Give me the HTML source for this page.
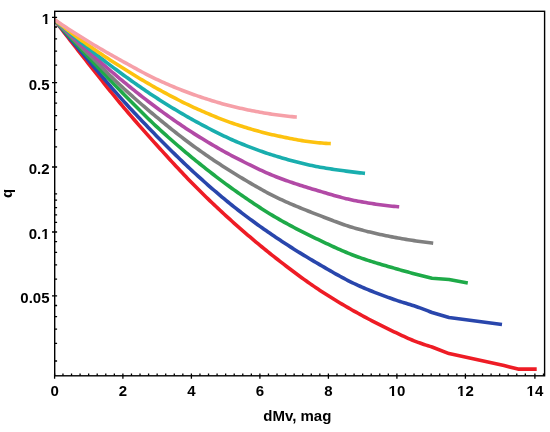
<!DOCTYPE html>
<html><head><meta charset="utf-8"><title>q vs dMv</title>
<style>html,body{margin:0;padding:0;background:#fff}svg{display:block}text{font-family:"Liberation Sans",sans-serif;font-weight:bold;font-size:15px;fill:#000}</style></head><body>
<svg width="550" height="432" viewBox="0 0 550 432">
<rect width="550" height="432" fill="#fff"/>
<clipPath id="c"><rect x="54.70" y="11.30" width="489.90" height="364.50"/></clipPath><g clip-path="url(#c)">
<path d="M54.00 19.30 L56.00 21.91 L58.00 24.52 L60.00 27.12 L62.00 29.72 L64.00 32.31 L66.00 34.90 L68.00 37.48 L70.00 40.06 L72.00 42.63 L74.00 45.20 L76.00 47.76 L78.00 50.32 L80.00 52.87 L82.00 55.42 L84.00 57.96 L86.00 60.50 L88.00 63.03 L90.00 65.56 L92.00 68.10 L94.00 70.63 L96.00 73.16 L98.00 75.69 L100.00 78.22 L102.00 80.74 L104.00 83.26 L106.00 85.76 L108.00 88.27 L110.00 90.76 L112.00 93.23 L114.00 95.70 L116.00 98.15 L118.00 100.59 L120.00 103.01 L122.00 105.41 L124.00 107.79 L126.00 110.16 L128.00 112.51 L130.00 114.85 L132.00 117.18 L134.00 119.49 L136.00 121.79 L138.00 124.09 L140.00 126.37 L142.00 128.64 L144.00 130.90 L146.00 133.15 L148.00 135.40 L150.00 137.63 L152.00 139.86 L154.00 142.08 L156.00 144.30 L158.00 146.50 L160.00 148.71 L162.00 150.91 L164.00 153.12 L166.00 155.31 L168.00 157.50 L170.00 159.69 L172.00 161.87 L174.00 164.03 L176.00 166.20 L178.00 168.35 L180.00 170.49 L182.00 172.61 L184.00 174.73 L186.00 176.83 L188.00 178.92 L190.00 180.99 L192.00 183.04 L194.00 185.08 L196.00 187.10 L198.00 189.10 L200.00 191.09 L202.00 193.06 L204.00 195.02 L206.00 196.97 L208.00 198.91 L210.00 200.84 L212.00 202.75 L214.00 204.65 L216.00 206.54 L218.00 208.42 L220.00 210.29 L222.00 212.14 L224.00 213.99 L226.00 215.82 L228.00 217.64 L230.00 219.45 L232.00 221.25 L234.00 223.04 L236.00 224.82 L238.00 226.58 L240.00 228.34 L242.00 230.08 L244.00 231.82 L246.00 233.55 L248.00 235.26 L250.00 236.97 L252.00 238.67 L254.00 240.35 L256.00 242.03 L258.00 243.69 L260.00 245.35 L262.00 246.99 L264.00 248.63 L266.00 250.25 L268.00 251.87 L270.00 253.47 L272.00 255.06 L274.00 256.65 L276.00 258.22 L278.00 259.78 L280.00 261.34 L282.00 262.89 L284.00 264.43 L286.00 265.97 L288.00 267.50 L290.00 269.02 L292.00 270.54 L294.00 272.04 L296.00 273.53 L298.00 275.01 L300.00 276.48 L302.00 277.94 L304.00 279.38 L306.00 280.81 L308.00 282.23 L310.00 283.63 L312.00 285.01 L314.00 286.38 L316.00 287.73 L318.00 289.06 L320.00 290.38 L322.00 291.69 L324.00 292.99 L326.00 294.27 L328.00 295.54 L330.00 296.80 L332.00 298.05 L334.00 299.29 L336.00 300.52 L338.00 301.73 L340.00 302.94 L342.00 304.13 L344.00 305.31 L346.00 306.49 L348.00 307.65 L350.00 308.80 L352.00 309.94 L354.00 311.07 L356.00 312.19 L358.00 313.30 L360.00 314.41 L362.00 315.50 L364.00 316.58 L366.00 317.65 L368.00 318.72 L370.00 319.77 L372.00 320.82 L374.00 321.85 L376.00 322.88 L378.00 323.90 L380.00 324.91 L382.00 325.92 L384.00 326.91 L386.00 327.90 L388.00 328.88 L390.00 329.85 L392.00 330.82 L394.00 331.78 L396.00 332.73 L398.00 333.67 L400.00 334.62 L402.00 335.56 L404.00 336.48 L406.00 337.40 L408.00 338.29 L410.00 339.16 L412.00 340.00 L414.00 340.80 L416.00 341.58 L418.00 342.33 L420.00 343.06 L422.00 343.78 L424.00 344.47 L426.00 345.14 L428.00 345.78 L430.00 346.40 L432.00 347.00 L449.00 353.60 L504.00 365.50 L518.00 369.10 L536.70 369.10" fill="none" stroke="#ee1c25" stroke-width="3.6" stroke-linecap="butt" stroke-linejoin="round"/>
<path d="M54.00 19.30 L56.00 21.72 L58.00 24.14 L60.00 26.56 L62.00 28.97 L64.00 31.37 L66.00 33.77 L68.00 36.17 L70.00 38.57 L72.00 40.95 L74.00 43.34 L76.00 45.72 L78.00 48.10 L80.00 50.47 L82.00 52.84 L84.00 55.21 L86.00 57.57 L88.00 59.92 L90.00 62.28 L92.00 64.63 L94.00 66.99 L96.00 69.35 L98.00 71.71 L100.00 74.06 L102.00 76.42 L104.00 78.76 L106.00 81.10 L108.00 83.43 L110.00 85.76 L112.00 88.07 L114.00 90.36 L116.00 92.65 L118.00 94.91 L120.00 97.16 L122.00 99.39 L124.00 101.60 L126.00 103.80 L128.00 105.99 L130.00 108.16 L132.00 110.32 L134.00 112.47 L136.00 114.60 L138.00 116.73 L140.00 118.84 L142.00 120.95 L144.00 123.04 L146.00 125.12 L148.00 127.20 L150.00 129.26 L152.00 131.31 L154.00 133.35 L156.00 135.39 L158.00 137.41 L160.00 139.43 L162.00 141.45 L164.00 143.46 L166.00 145.46 L168.00 147.45 L170.00 149.44 L172.00 151.42 L174.00 153.39 L176.00 155.35 L178.00 157.31 L180.00 159.25 L182.00 161.17 L184.00 163.09 L186.00 164.99 L188.00 166.88 L190.00 168.76 L192.00 170.62 L194.00 172.46 L196.00 174.29 L198.00 176.10 L200.00 177.91 L202.00 179.70 L204.00 181.49 L206.00 183.26 L208.00 185.03 L210.00 186.78 L212.00 188.52 L214.00 190.25 L216.00 191.97 L218.00 193.68 L220.00 195.37 L222.00 197.05 L224.00 198.72 L226.00 200.37 L228.00 202.01 L230.00 203.63 L232.00 205.24 L234.00 206.84 L236.00 208.42 L238.00 209.98 L240.00 211.53 L242.00 213.07 L244.00 214.59 L246.00 216.10 L248.00 217.60 L250.00 219.09 L252.00 220.56 L254.00 222.03 L256.00 223.48 L258.00 224.92 L260.00 226.35 L262.00 227.77 L264.00 229.18 L266.00 230.58 L268.00 231.97 L270.00 233.35 L272.00 234.72 L274.00 236.08 L276.00 237.43 L278.00 238.77 L280.00 240.10 L282.00 241.42 L284.00 242.73 L286.00 244.04 L288.00 245.33 L290.00 246.61 L292.00 247.89 L294.00 249.16 L296.00 250.41 L298.00 251.66 L300.00 252.90 L302.00 254.13 L304.00 255.36 L306.00 256.57 L308.00 257.78 L310.00 258.97 L312.00 260.16 L314.00 261.34 L316.00 262.52 L318.00 263.68 L320.00 264.85 L322.00 266.02 L324.00 267.18 L326.00 268.35 L328.00 269.51 L330.00 270.66 L332.00 271.81 L334.00 272.95 L336.00 274.08 L338.00 275.19 L340.00 276.30 L342.00 277.39 L344.00 278.46 L346.00 279.51 L348.00 280.54 L350.00 281.55 L352.00 282.54 L354.00 283.50 L356.00 284.44 L358.00 285.35 L360.00 286.25 L362.00 287.12 L364.00 287.99 L366.00 288.83 L368.00 289.67 L370.00 290.49 L372.00 291.29 L374.00 292.09 L376.00 292.87 L378.00 293.64 L380.00 294.40 L382.00 295.15 L384.00 295.89 L386.00 296.62 L388.00 297.34 L390.00 298.06 L392.00 298.76 L394.00 299.46 L396.00 300.16 L398.00 300.84 L400.00 301.49 L402.00 302.12 L404.00 302.73 L406.00 303.33 L408.00 303.93 L410.00 304.55 L412.00 305.18 L414.00 305.83 L416.00 306.51 L418.00 307.21 L420.00 307.93 L422.00 308.66 L424.00 309.40 L426.00 310.16 L428.00 310.92 L430.00 311.71 L432.00 312.50 L449.00 317.50 L502.00 324.50" fill="none" stroke="#2946ac" stroke-width="3.6" stroke-linecap="butt" stroke-linejoin="round"/>
<path d="M54.00 19.30 L56.00 21.55 L58.00 23.80 L60.00 26.03 L62.00 28.27 L64.00 30.49 L66.00 32.71 L68.00 34.93 L70.00 37.13 L72.00 39.34 L74.00 41.53 L76.00 43.72 L78.00 45.90 L80.00 48.08 L82.00 50.25 L84.00 52.42 L86.00 54.57 L88.00 56.73 L90.00 58.87 L92.00 61.01 L94.00 63.15 L96.00 65.28 L98.00 67.40 L100.00 69.52 L102.00 71.63 L104.00 73.74 L106.00 75.84 L108.00 77.93 L110.00 80.02 L112.00 82.10 L114.00 84.17 L116.00 86.23 L118.00 88.29 L120.00 90.34 L122.00 92.38 L124.00 94.42 L126.00 96.45 L128.00 98.49 L130.00 100.52 L132.00 102.55 L134.00 104.57 L136.00 106.59 L138.00 108.59 L140.00 110.59 L142.00 112.58 L144.00 114.56 L146.00 116.52 L148.00 118.47 L150.00 120.40 L152.00 122.31 L154.00 124.20 L156.00 126.07 L158.00 127.92 L160.00 129.76 L162.00 131.58 L164.00 133.39 L166.00 135.19 L168.00 136.98 L170.00 138.75 L172.00 140.52 L174.00 142.27 L176.00 144.01 L178.00 145.74 L180.00 147.46 L182.00 149.16 L184.00 150.85 L186.00 152.54 L188.00 154.21 L190.00 155.87 L192.00 157.52 L194.00 159.16 L196.00 160.79 L198.00 162.41 L200.00 164.02 L202.00 165.62 L204.00 167.21 L206.00 168.80 L208.00 170.37 L210.00 171.94 L212.00 173.49 L214.00 175.04 L216.00 176.57 L218.00 178.10 L220.00 179.61 L222.00 181.11 L224.00 182.60 L226.00 184.08 L228.00 185.55 L230.00 187.01 L232.00 188.45 L234.00 189.88 L236.00 191.30 L238.00 192.70 L240.00 194.10 L242.00 195.49 L244.00 196.88 L246.00 198.25 L248.00 199.62 L250.00 200.98 L252.00 202.33 L254.00 203.67 L256.00 205.00 L258.00 206.32 L260.00 207.62 L262.00 208.91 L264.00 210.19 L266.00 211.45 L268.00 212.70 L270.00 213.93 L272.00 215.14 L274.00 216.34 L276.00 217.52 L278.00 218.68 L280.00 219.83 L282.00 220.96 L284.00 222.08 L286.00 223.19 L288.00 224.28 L290.00 225.36 L292.00 226.43 L294.00 227.49 L296.00 228.54 L298.00 229.58 L300.00 230.61 L302.00 231.63 L304.00 232.64 L306.00 233.64 L308.00 234.63 L310.00 235.61 L312.00 236.59 L314.00 237.56 L316.00 238.52 L318.00 239.48 L320.00 240.43 L322.00 241.39 L324.00 242.34 L326.00 243.28 L328.00 244.23 L330.00 245.16 L332.00 246.09 L334.00 247.01 L336.00 247.92 L338.00 248.82 L340.00 249.71 L342.00 250.58 L344.00 251.44 L346.00 252.28 L348.00 253.11 L350.00 253.92 L352.00 254.71 L354.00 255.48 L356.00 256.23 L358.00 256.96 L360.00 257.67 L362.00 258.37 L364.00 259.05 L366.00 259.71 L368.00 260.37 L370.00 261.01 L372.00 261.64 L374.00 262.26 L376.00 262.87 L378.00 263.47 L380.00 264.07 L382.00 264.66 L384.00 265.24 L386.00 265.83 L388.00 266.40 L390.00 266.98 L392.00 267.56 L394.00 268.13 L396.00 268.71 L398.00 269.29 L400.00 269.86 L402.00 270.43 L404.00 270.99 L406.00 271.54 L408.00 272.09 L410.00 272.63 L412.00 273.17 L414.00 273.71 L416.00 274.24 L417.00 274.50 L432.00 278.30 L449.00 279.50 L467.80 282.90" fill="none" stroke="#1eaa48" stroke-width="3.6" stroke-linecap="butt" stroke-linejoin="round"/>
<path d="M54.00 19.30 L56.00 21.35 L58.00 23.39 L60.00 25.43 L62.00 27.47 L64.00 29.50 L66.00 31.53 L68.00 33.56 L70.00 35.58 L72.00 37.60 L74.00 39.61 L76.00 41.62 L78.00 43.63 L80.00 45.63 L82.00 47.63 L84.00 49.63 L86.00 51.62 L88.00 53.61 L90.00 55.59 L92.00 57.58 L94.00 59.57 L96.00 61.57 L98.00 63.56 L100.00 65.56 L102.00 67.54 L104.00 69.53 L106.00 71.50 L108.00 73.47 L110.00 75.43 L112.00 77.38 L114.00 79.31 L116.00 81.23 L118.00 83.13 L120.00 85.01 L122.00 86.88 L124.00 88.72 L126.00 90.55 L128.00 92.36 L130.00 94.17 L132.00 95.96 L134.00 97.74 L136.00 99.51 L138.00 101.26 L140.00 103.01 L142.00 104.74 L144.00 106.47 L146.00 108.18 L148.00 109.88 L150.00 111.57 L152.00 113.25 L154.00 114.92 L156.00 116.57 L158.00 118.22 L160.00 119.87 L162.00 121.50 L164.00 123.13 L166.00 124.76 L168.00 126.37 L170.00 127.98 L172.00 129.58 L174.00 131.17 L176.00 132.75 L178.00 134.32 L180.00 135.88 L182.00 137.43 L184.00 138.96 L186.00 140.48 L188.00 141.99 L190.00 143.49 L192.00 144.97 L194.00 146.43 L196.00 147.88 L198.00 149.32 L200.00 150.74 L202.00 152.15 L204.00 153.55 L206.00 154.94 L208.00 156.32 L210.00 157.69 L212.00 159.04 L214.00 160.39 L216.00 161.73 L218.00 163.05 L220.00 164.37 L222.00 165.67 L224.00 166.96 L226.00 168.24 L228.00 169.51 L230.00 170.77 L232.00 172.02 L234.00 173.26 L236.00 174.49 L238.00 175.71 L240.00 176.92 L242.00 178.13 L244.00 179.34 L246.00 180.54 L248.00 181.73 L250.00 182.91 L252.00 184.09 L254.00 185.25 L256.00 186.41 L258.00 187.55 L260.00 188.68 L262.00 189.79 L264.00 190.89 L266.00 191.98 L268.00 193.04 L270.00 194.09 L272.00 195.12 L274.00 196.13 L276.00 197.11 L278.00 198.08 L280.00 199.03 L282.00 199.96 L284.00 200.88 L286.00 201.78 L288.00 202.67 L290.00 203.55 L292.00 204.42 L294.00 205.27 L296.00 206.11 L298.00 206.95 L300.00 207.77 L302.00 208.58 L304.00 209.39 L306.00 210.19 L308.00 210.99 L310.00 211.77 L312.00 212.56 L314.00 213.34 L316.00 214.11 L318.00 214.89 L320.00 215.66 L322.00 216.44 L324.00 217.22 L326.00 217.99 L328.00 218.77 L330.00 219.54 L332.00 220.30 L334.00 221.06 L336.00 221.80 L338.00 222.54 L340.00 223.27 L342.00 223.98 L344.00 224.68 L346.00 225.36 L348.00 226.02 L350.00 226.67 L352.00 227.29 L354.00 227.89 L356.00 228.47 L358.00 229.03 L360.00 229.57 L362.00 230.10 L364.00 230.62 L366.00 231.13 L368.00 231.63 L370.00 232.12 L372.00 232.61 L374.00 233.08 L376.00 233.54 L378.00 233.99 L380.00 234.43 L382.00 234.86 L384.00 235.28 L386.00 235.69 L388.00 236.10 L390.00 236.49 L392.00 236.88 L394.00 237.25 L396.00 237.62 L398.00 237.98 L400.00 238.33 L402.00 238.68 L404.00 239.02 L406.00 239.36 L408.00 239.69 L410.00 240.01 L412.00 240.33 L414.00 240.63 L416.00 240.94 L418.00 241.23 L420.00 241.52 L422.00 241.80 L424.00 242.07 L426.00 242.33 L428.00 242.58 L430.00 242.83 L432.00 243.06 L433.20 243.20" fill="none" stroke="#7f7f7f" stroke-width="3.6" stroke-linecap="butt" stroke-linejoin="round"/>
<path d="M54.00 19.30 L56.00 21.22 L58.00 23.13 L60.00 25.03 L62.00 26.92 L64.00 28.81 L66.00 30.69 L68.00 32.57 L70.00 34.44 L72.00 36.29 L74.00 38.15 L76.00 39.99 L78.00 41.83 L80.00 43.66 L82.00 45.48 L84.00 47.30 L86.00 49.10 L88.00 50.90 L90.00 52.70 L92.00 54.48 L94.00 56.27 L96.00 58.04 L98.00 59.81 L100.00 61.58 L102.00 63.34 L104.00 65.09 L106.00 66.83 L108.00 68.56 L110.00 70.29 L112.00 72.00 L114.00 73.71 L116.00 75.40 L118.00 77.09 L120.00 78.76 L122.00 80.42 L124.00 82.07 L126.00 83.72 L128.00 85.35 L130.00 86.98 L132.00 88.61 L134.00 90.22 L136.00 91.82 L138.00 93.42 L140.00 95.01 L142.00 96.58 L144.00 98.14 L146.00 99.70 L148.00 101.24 L150.00 102.76 L152.00 104.28 L154.00 105.78 L156.00 107.26 L158.00 108.73 L160.00 110.20 L162.00 111.65 L164.00 113.10 L166.00 114.54 L168.00 115.98 L170.00 117.40 L172.00 118.81 L174.00 120.22 L176.00 121.61 L178.00 122.99 L180.00 124.36 L182.00 125.72 L184.00 127.07 L186.00 128.40 L188.00 129.73 L190.00 131.03 L192.00 132.33 L194.00 133.61 L196.00 134.87 L198.00 136.12 L200.00 137.36 L202.00 138.59 L204.00 139.81 L206.00 141.03 L208.00 142.23 L210.00 143.42 L212.00 144.60 L214.00 145.77 L216.00 146.93 L218.00 148.07 L220.00 149.21 L222.00 150.33 L224.00 151.45 L226.00 152.55 L228.00 153.64 L230.00 154.72 L232.00 155.79 L234.00 156.84 L236.00 157.88 L238.00 158.91 L240.00 159.94 L242.00 160.96 L244.00 161.98 L246.00 162.99 L248.00 163.99 L250.00 164.98 L252.00 165.97 L254.00 166.94 L256.00 167.90 L258.00 168.85 L260.00 169.79 L262.00 170.72 L264.00 171.62 L266.00 172.52 L268.00 173.39 L270.00 174.25 L272.00 175.09 L274.00 175.91 L276.00 176.71 L278.00 177.49 L280.00 178.25 L282.00 179.00 L284.00 179.73 L286.00 180.45 L288.00 181.16 L290.00 181.86 L292.00 182.55 L294.00 183.22 L296.00 183.89 L298.00 184.55 L300.00 185.19 L302.00 185.83 L304.00 186.46 L306.00 187.08 L308.00 187.70 L310.00 188.31 L312.00 188.91 L314.00 189.51 L316.00 190.10 L318.00 190.70 L320.00 191.29 L322.00 191.89 L324.00 192.48 L326.00 193.08 L328.00 193.67 L330.00 194.26 L332.00 194.84 L334.00 195.42 L336.00 195.99 L338.00 196.54 L340.00 197.09 L342.00 197.62 L344.00 198.13 L346.00 198.63 L348.00 199.11 L350.00 199.57 L352.00 200.01 L354.00 200.43 L356.00 200.82 L358.00 201.18 L360.00 201.54 L362.00 201.89 L364.00 202.24 L366.00 202.58 L368.00 202.92 L370.00 203.24 L372.00 203.56 L374.00 203.87 L376.00 204.17 L378.00 204.46 L380.00 204.74 L382.00 205.01 L384.00 205.27 L386.00 205.52 L388.00 205.75 L390.00 205.97 L392.00 206.18 L394.00 206.37 L396.00 206.55 L398.00 206.71 L399.20 206.80" fill="none" stroke="#b24aa6" stroke-width="3.6" stroke-linecap="butt" stroke-linejoin="round"/>
<path d="M54.00 19.30 L56.00 21.06 L58.00 22.82 L60.00 24.56 L62.00 26.30 L64.00 28.03 L66.00 29.74 L68.00 31.45 L70.00 33.15 L72.00 34.84 L74.00 36.52 L76.00 38.19 L78.00 39.85 L80.00 41.50 L82.00 43.14 L84.00 44.77 L86.00 46.39 L88.00 48.00 L90.00 49.60 L92.00 51.19 L94.00 52.77 L96.00 54.34 L98.00 55.91 L100.00 57.46 L102.00 59.00 L104.00 60.54 L106.00 62.07 L108.00 63.58 L110.00 65.09 L112.00 66.60 L114.00 68.09 L116.00 69.57 L118.00 71.05 L120.00 72.51 L122.00 73.97 L124.00 75.43 L126.00 76.87 L128.00 78.31 L130.00 79.75 L132.00 81.18 L134.00 82.61 L136.00 84.02 L138.00 85.43 L140.00 86.83 L142.00 88.22 L144.00 89.60 L146.00 90.96 L148.00 92.32 L150.00 93.66 L152.00 94.99 L154.00 96.31 L156.00 97.61 L158.00 98.89 L160.00 100.17 L162.00 101.44 L164.00 102.70 L166.00 103.95 L168.00 105.20 L170.00 106.43 L172.00 107.66 L174.00 108.87 L176.00 110.08 L178.00 111.28 L180.00 112.47 L182.00 113.64 L184.00 114.81 L186.00 115.96 L188.00 117.10 L190.00 118.24 L192.00 119.36 L194.00 120.46 L196.00 121.56 L198.00 122.64 L200.00 123.72 L202.00 124.79 L204.00 125.86 L206.00 126.92 L208.00 127.98 L210.00 129.02 L212.00 130.06 L214.00 131.09 L216.00 132.10 L218.00 133.11 L220.00 134.10 L222.00 135.08 L224.00 136.04 L226.00 136.99 L228.00 137.93 L230.00 138.84 L232.00 139.74 L234.00 140.62 L236.00 141.48 L238.00 142.32 L240.00 143.15 L242.00 143.97 L244.00 144.78 L246.00 145.58 L248.00 146.36 L250.00 147.14 L252.00 147.91 L254.00 148.67 L256.00 149.41 L258.00 150.14 L260.00 150.86 L262.00 151.57 L264.00 152.26 L266.00 152.95 L268.00 153.61 L270.00 154.27 L272.00 154.91 L274.00 155.54 L276.00 156.15 L278.00 156.75 L280.00 157.34 L282.00 157.93 L284.00 158.51 L286.00 159.08 L288.00 159.65 L290.00 160.21 L292.00 160.76 L294.00 161.30 L296.00 161.83 L298.00 162.34 L300.00 162.85 L302.00 163.35 L304.00 163.83 L306.00 164.30 L308.00 164.75 L310.00 165.19 L312.00 165.61 L314.00 166.02 L316.00 166.41 L318.00 166.79 L320.00 167.15 L322.00 167.50 L324.00 167.84 L326.00 168.18 L328.00 168.50 L330.00 168.82 L332.00 169.12 L334.00 169.42 L336.00 169.72 L338.00 170.01 L340.00 170.29 L342.00 170.56 L344.00 170.83 L346.00 171.10 L348.00 171.36 L350.00 171.62 L352.00 171.87 L354.00 172.13 L356.00 172.38 L358.00 172.62 L360.00 172.86 L362.00 173.08 L364.00 173.29 L365.00 173.40" fill="none" stroke="#19aeae" stroke-width="3.6" stroke-linecap="butt" stroke-linejoin="round"/>
<path d="M54.00 19.30 L56.00 20.90 L58.00 22.48 L60.00 24.06 L62.00 25.63 L64.00 27.18 L66.00 28.73 L68.00 30.26 L70.00 31.79 L72.00 33.30 L74.00 34.80 L76.00 36.29 L78.00 37.77 L80.00 39.24 L82.00 40.69 L84.00 42.14 L86.00 43.57 L88.00 44.99 L90.00 46.40 L92.00 47.80 L94.00 49.19 L96.00 50.56 L98.00 51.92 L100.00 53.28 L102.00 54.62 L104.00 55.95 L106.00 57.28 L108.00 58.59 L110.00 59.90 L112.00 61.20 L114.00 62.48 L116.00 63.77 L118.00 65.04 L120.00 66.31 L122.00 67.57 L124.00 68.83 L126.00 70.08 L128.00 71.33 L130.00 72.57 L132.00 73.80 L134.00 75.03 L136.00 76.25 L138.00 77.47 L140.00 78.68 L142.00 79.87 L144.00 81.06 L146.00 82.24 L148.00 83.40 L150.00 84.56 L152.00 85.70 L154.00 86.83 L156.00 87.95 L158.00 89.05 L160.00 90.15 L162.00 91.24 L164.00 92.33 L166.00 93.41 L168.00 94.49 L170.00 95.56 L172.00 96.62 L174.00 97.67 L176.00 98.71 L178.00 99.74 L180.00 100.77 L182.00 101.77 L184.00 102.77 L186.00 103.76 L188.00 104.73 L190.00 105.68 L192.00 106.62 L194.00 107.54 L196.00 108.45 L198.00 109.34 L200.00 110.23 L202.00 111.11 L204.00 111.97 L206.00 112.84 L208.00 113.69 L210.00 114.53 L212.00 115.36 L214.00 116.19 L216.00 117.00 L218.00 117.80 L220.00 118.59 L222.00 119.36 L224.00 120.12 L226.00 120.87 L228.00 121.60 L230.00 122.32 L232.00 123.02 L234.00 123.70 L236.00 124.37 L238.00 125.02 L240.00 125.67 L242.00 126.30 L244.00 126.93 L246.00 127.55 L248.00 128.16 L250.00 128.77 L252.00 129.36 L254.00 129.94 L256.00 130.51 L258.00 131.07 L260.00 131.62 L262.00 132.16 L264.00 132.68 L266.00 133.19 L268.00 133.69 L270.00 134.17 L272.00 134.64 L274.00 135.10 L276.00 135.54 L278.00 135.96 L280.00 136.38 L282.00 136.80 L284.00 137.22 L286.00 137.63 L288.00 138.03 L290.00 138.43 L292.00 138.82 L294.00 139.20 L296.00 139.57 L298.00 139.93 L300.00 140.28 L302.00 140.62 L304.00 140.94 L306.00 141.24 L308.00 141.53 L310.00 141.80 L312.00 142.06 L314.00 142.29 L316.00 142.50 L318.00 142.69 L320.00 142.87 L322.00 143.04 L324.00 143.19 L326.00 143.33 L328.00 143.45 L330.00 143.56 L330.80 143.60" fill="none" stroke="#fdc20f" stroke-width="3.6" stroke-linecap="butt" stroke-linejoin="round"/>
<path d="M54.00 19.30 L56.00 20.66 L58.00 22.01 L60.00 23.35 L62.00 24.68 L64.00 26.01 L66.00 27.33 L68.00 28.64 L70.00 29.94 L72.00 31.24 L74.00 32.52 L76.00 33.80 L78.00 35.07 L80.00 36.33 L82.00 37.58 L84.00 38.83 L86.00 40.06 L88.00 41.29 L90.00 42.51 L92.00 43.72 L94.00 44.92 L96.00 46.11 L98.00 47.29 L100.00 48.46 L102.00 49.63 L104.00 50.79 L106.00 51.94 L108.00 53.09 L110.00 54.23 L112.00 55.36 L114.00 56.49 L116.00 57.61 L118.00 58.73 L120.00 59.84 L122.00 60.95 L124.00 62.05 L126.00 63.16 L128.00 64.27 L130.00 65.38 L132.00 66.49 L134.00 67.60 L136.00 68.70 L138.00 69.80 L140.00 70.88 L142.00 71.96 L144.00 73.02 L146.00 74.07 L148.00 75.11 L150.00 76.12 L152.00 77.11 L154.00 78.09 L156.00 79.04 L158.00 79.96 L160.00 80.87 L162.00 81.78 L164.00 82.67 L166.00 83.56 L168.00 84.43 L170.00 85.29 L172.00 86.15 L174.00 86.99 L176.00 87.82 L178.00 88.63 L180.00 89.44 L182.00 90.23 L184.00 91.01 L186.00 91.78 L188.00 92.53 L190.00 93.27 L192.00 94.00 L194.00 94.71 L196.00 95.41 L198.00 96.09 L200.00 96.77 L202.00 97.44 L204.00 98.10 L206.00 98.75 L208.00 99.40 L210.00 100.04 L212.00 100.67 L214.00 101.29 L216.00 101.89 L218.00 102.49 L220.00 103.08 L222.00 103.65 L224.00 104.21 L226.00 104.76 L228.00 105.29 L230.00 105.81 L232.00 106.31 L234.00 106.80 L236.00 107.27 L238.00 107.73 L240.00 108.17 L242.00 108.61 L244.00 109.05 L246.00 109.47 L248.00 109.89 L250.00 110.30 L252.00 110.70 L254.00 111.09 L256.00 111.47 L258.00 111.85 L260.00 112.21 L262.00 112.57 L264.00 112.91 L266.00 113.25 L268.00 113.57 L270.00 113.89 L272.00 114.19 L274.00 114.48 L276.00 114.76 L278.00 115.03 L280.00 115.29 L282.00 115.55 L284.00 115.79 L286.00 116.02 L288.00 116.24 L290.00 116.45 L292.00 116.66 L294.00 116.85 L296.00 117.03 L296.80 117.10" fill="none" stroke="#f6a0a8" stroke-width="3.6" stroke-linecap="butt" stroke-linejoin="round"/>
</g>
<rect x="54.70" y="11.30" width="489.90" height="364.50" fill="none" stroke="#000" stroke-width="1.40"/>
<path d="M52.00 17.40H57.10M52.00 82.60H57.10M52.00 167.00H57.10M52.00 232.00H57.10M52.00 295.85H57.10M54.70 27.00H57.10M54.70 38.90H57.10M54.70 51.10H57.10M54.70 65.20H57.10M54.70 92.30H57.10M54.70 103.10H57.10M54.70 115.60H57.10M54.70 129.70H57.10M54.70 146.80H57.10M54.70 193.80H57.10M54.70 200.20H57.10M54.70 207.60H57.10M54.70 214.80H57.10M54.70 222.30H57.10M54.70 241.60H57.10M54.70 252.30H57.10M54.70 264.90H57.10M54.70 279.20H57.10M54.70 305.50H57.10M54.70 316.70H57.10M54.70 329.10H57.10M54.70 343.30H57.10M54.70 361.00H57.10M54.60 378.80V373.40M62.96 375.80V373.40M71.53 375.80V373.40M80.09 375.80V373.40M88.65 375.80V373.40M97.21 375.80V373.40M105.78 375.80V373.40M114.34 375.80V373.40M122.90 378.80V373.40M131.46 375.80V373.40M140.03 375.80V373.40M148.59 375.80V373.40M157.15 375.80V373.40M165.71 375.80V373.40M174.28 375.80V373.40M182.84 375.80V373.40M191.40 378.80V373.40M199.96 375.80V373.40M208.53 375.80V373.40M217.09 375.80V373.40M225.65 375.80V373.40M234.21 375.80V373.40M242.78 375.80V373.40M251.34 375.80V373.40M259.90 378.80V373.40M268.46 375.80V373.40M277.02 375.80V373.40M285.59 375.80V373.40M294.15 375.80V373.40M302.71 375.80V373.40M311.27 375.80V373.40M319.84 375.80V373.40M328.40 378.80V373.40M336.96 375.80V373.40M345.52 375.80V373.40M354.09 375.80V373.40M362.65 375.80V373.40M371.21 375.80V373.40M379.77 375.80V373.40M388.34 375.80V373.40M396.90 378.80V373.40M405.46 375.80V373.40M414.02 375.80V373.40M422.59 375.80V373.40M431.15 375.80V373.40M439.71 375.80V373.40M448.27 375.80V373.40M456.84 375.80V373.40M465.40 378.80V373.40M473.96 375.80V373.40M482.52 375.80V373.40M491.09 375.80V373.40M499.65 375.80V373.40M508.21 375.80V373.40M516.77 375.80V373.40M525.34 375.80V373.40M534.90 378.80V373.40M543.50 375.80V373.40" stroke="#000" stroke-width="1.3" fill="none"/>
<text x="50.10" y="24.40" text-anchor="end">1</text>
<text x="49.50" y="89.90" text-anchor="end">0.5</text>
<text x="49.50" y="174.40" text-anchor="end">0.2</text>
<text x="49.50" y="239.20" text-anchor="end">0.1</text>
<text x="49.50" y="303.30" text-anchor="end">0.05</text>
<text x="54.60" y="396.1" text-anchor="middle">0</text>
<text x="122.90" y="396.1" text-anchor="middle">2</text>
<text x="191.40" y="396.1" text-anchor="middle">4</text>
<text x="259.90" y="396.1" text-anchor="middle">6</text>
<text x="328.40" y="396.1" text-anchor="middle">8</text>
<text x="396.90" y="396.1" text-anchor="middle">10</text>
<text x="465.40" y="396.1" text-anchor="middle">12</text>
<text x="534.90" y="396.1" text-anchor="middle">14</text>
<path d="M41.80 21.98H45.16V25.02H41.80ZM47.42 21.98H50.63V25.02H47.42Z" fill="#fff"/>
<path d="M41.20 236.98H44.56V240.02H41.20ZM46.82 236.98H50.03V240.02H46.82Z" fill="#fff"/>
<path d="M388.60 393.98H391.96V397.02H388.60ZM394.22 393.98H397.43V397.02H394.22Z" fill="#fff"/>
<path d="M457.10 393.98H460.46V397.02H457.10ZM462.72 393.98H465.93V397.02H462.72Z" fill="#fff"/>
<path d="M526.60 393.98H529.96V397.02H526.60ZM532.22 393.98H535.43V397.02H532.22Z" fill="#fff"/>
<text x="297.3" y="420.9" text-anchor="middle">dMv, mag</text>
<text transform="translate(11.8 193.3) rotate(-90)" text-anchor="middle">q</text>
</svg></body></html>
